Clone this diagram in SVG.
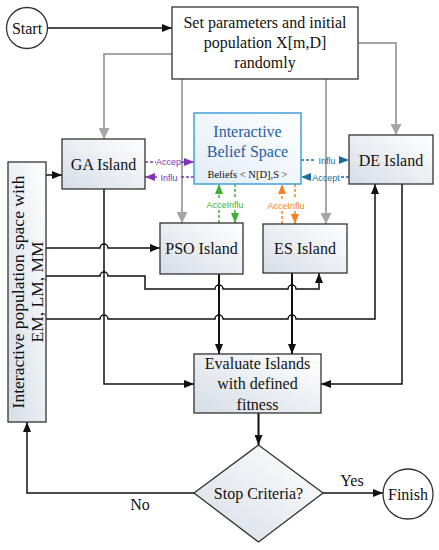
<svg xmlns="http://www.w3.org/2000/svg" width="439" height="550" viewBox="0 0 439 550">
<defs>
<linearGradient id="gfill" x1="1" y1="0" x2="0" y2="1">
<stop offset="0" stop-color="#ffffff"/>
<stop offset="1" stop-color="#d6dde6"/>
</linearGradient>
<linearGradient id="bfill" x1="1" y1="0" x2="0" y2="1">
<stop offset="0" stop-color="#ffffff"/>
<stop offset="1" stop-color="#e2ecf6"/>
</linearGradient>
<marker id="ab" viewBox="0 0 10 8" refX="10" refY="4" markerWidth="10" markerHeight="8" markerUnits="userSpaceOnUse" orient="auto"><path d="M0,0 L10,4 L0,8 z" fill="#111"/></marker>
<marker id="ag" viewBox="0 0 10 10" refX="10" refY="5" markerWidth="11" markerHeight="11" markerUnits="userSpaceOnUse" orient="auto"><path d="M0,0 L10,5 L0,10 z" fill="#a6a6a6"/></marker>
<marker id="ap" viewBox="0 0 10 8" refX="10" refY="4" markerWidth="10" markerHeight="8" markerUnits="userSpaceOnUse" orient="auto"><path d="M0,0 L10,4 L0,8 z" fill="#7f35b2"/></marker>
<marker id="abl" viewBox="0 0 10 8" refX="10" refY="4" markerWidth="10" markerHeight="8" markerUnits="userSpaceOnUse" orient="auto"><path d="M0,0 L10,4 L0,8 z" fill="#1a6e9e"/></marker>
<marker id="agr" viewBox="0 0 10 8" refX="10" refY="4" markerWidth="10" markerHeight="8" markerUnits="userSpaceOnUse" orient="auto"><path d="M0,0 L10,4 L0,8 z" fill="#3cb034"/></marker>
<marker id="aor" viewBox="0 0 10 8" refX="10" refY="4" markerWidth="10" markerHeight="8" markerUnits="userSpaceOnUse" orient="auto"><path d="M0,0 L10,4 L0,8 z" fill="#f58220"/></marker>
</defs>
<style>
.box{fill:url(#gfill);stroke:#333;stroke-width:1.3}
.plain{fill:#fff;stroke:#333;stroke-width:1.3}
.t{font-family:"Liberation Serif","Times New Roman",serif;font-size:16px;fill:#111;text-anchor:middle}
.ln{fill:none;stroke:#111;stroke-width:1.5}
.lnb{fill:none;stroke:#111;stroke-width:2}
.gr{fill:none;stroke:#a6a6a6;stroke-width:2}
.d{fill:none;stroke-width:1.5;stroke-dasharray:3 2}
.lab{font-family:"Liberation Sans",Arial,sans-serif;font-size:9px;text-anchor:middle}
</style>
<rect width="439" height="550" fill="#fff"/>

<g id="connectors">
<path class="ln" d="M48,28 H172" marker-end="url(#ab)"/>
<path class="gr" d="M172,54 H104 V139" marker-end="url(#ag)"/>
<path class="gr" d="M182,79 V223" marker-end="url(#ag)"/>
<path class="gr" d="M326,79 V224" marker-end="url(#ag)"/>
<path class="gr" d="M358,43 H396 V135" marker-end="url(#ag)"/>
<path class="ln" d="M46,175 H62" marker-end="url(#ab)"/>
<path class="ln" d="M46,248 H100 a4,4 0 0 1 8,0 H160" marker-end="url(#ab)"/>
<path class="ln" d="M46,276 H100 a4,4 0 0 1 8,0 H145 V289 H215 a4,4 0 0 1 8,0 H288 a4,4 0 0 1 8,0 H319 V273" marker-end="url(#ab)"/>
<path class="ln" d="M46,319 H100 a4,4 0 0 1 8,0 H215 a4,4 0 0 1 8,0 H288 a4,4 0 0 1 8,0 H375 V184" marker-end="url(#ab)"/>
<path class="ln" d="M104,189 V384 H194" marker-end="url(#ab)"/>
<path class="lnb" d="M219,274 V354" marker-end="url(#ab)"/>
<path class="lnb" d="M292,273 V354" marker-end="url(#ab)"/>
<path class="ln" d="M402,184 V384 H321" marker-end="url(#ab)"/>
<path class="lnb" d="M258.5,413 V445" marker-end="url(#ab)"/>
<path class="ln" d="M323,493 H383" marker-end="url(#ab)"/>
<path class="ln" d="M194,493 H27 V422" marker-end="url(#ab)"/>
<text class="t" x="352" y="486">Yes</text>
<text class="t" x="140" y="510">No</text>

<path class="d" stroke="#7f35b2" d="M145,162 H156"/>
<path class="d" stroke="#7f35b2" d="M181,162 H194" marker-end="url(#ap)"/>
<text class="lab" fill="#7f35b2" x="168.5" y="165">Accep</text>
<path class="d" stroke="#7f35b2" d="M194,177 H181"/>
<path class="d" stroke="#7f35b2" d="M157,177 H145" marker-end="url(#ap)"/>
<text class="lab" fill="#7f35b2" x="169" y="180.5">Influ</text>

<path class="d" stroke="#1a6e9e" d="M301,160 H314"/>
<path class="d" stroke="#1a6e9e" d="M339,160 H349" marker-end="url(#abl)"/>
<text class="lab" fill="#1a6e9e" x="327" y="163.5">Influ</text>
<path class="d" stroke="#1a6e9e" d="M349,177 H341"/>
<path class="d" stroke="#1a6e9e" d="M311,177 H301" marker-end="url(#abl)"/>
<text class="lab" fill="#1a6e9e" x="326" y="180.5">Accept</text>

<path class="d" stroke="#3cb034" d="M219,223 V210"/>
<path class="d" stroke="#3cb034" d="M219,198 V184" marker-end="url(#agr)"/>
<path class="d" stroke="#3cb034" d="M235,184 V198"/>
<path class="d" stroke="#3cb034" d="M235,210 V223" marker-end="url(#agr)"/>
<text class="lab" fill="#3cb034" x="225" y="207.5">AcceInflu</text>

<path class="d" stroke="#f58220" d="M282,224 V211"/>
<path class="d" stroke="#f58220" d="M282,199 V184" marker-end="url(#aor)"/>
<path class="d" stroke="#f58220" d="M295,184 V199"/>
<path class="d" stroke="#f58220" d="M295,211 V224" marker-end="url(#aor)"/>
<text class="lab" fill="#f58220" x="286" y="208.5">AcceInflu</text>
</g>

<g id="start">
<circle class="plain" cx="27" cy="28" r="20.5"/>
<text class="t" x="27" y="33.5">Start</text>
</g>

<g id="setparams">
<rect class="plain" x="172" y="7" width="186" height="72"/>
<text class="t" x="265" y="28">Set parameters and initial</text>
<text class="t" x="265" y="48">population X[m,D]</text>
<text class="t" x="265" y="68">randomly</text>
</g>

<g id="ga">
<rect class="box" x="62" y="139" width="83" height="50"/>
<text class="t" x="103.5" y="170">GA Island</text>
</g>

<g id="belief">
<rect x="194" y="113" width="107" height="71" fill="url(#bfill)" stroke="#41a0dc" stroke-width="1.5"/>
<text class="t" x="247.5" y="137" fill="#1f5ea8" style="fill:#1f5ea8">Interactive</text>
<text class="t" x="247.5" y="157" style="fill:#1f5ea8">Belief Space</text>
<text class="t" x="247.5" y="177.5" style="font-size:10.5px">Beliefs &lt; N[D],S &gt;</text>
</g>

<g id="de">
<rect class="box" x="349" y="135" width="84" height="49"/>
<text class="t" x="391" y="165.5">DE Island</text>
</g>

<g id="pso">
<rect class="box" x="160" y="223" width="83" height="51"/>
<text class="t" x="201.5" y="254">PSO Island</text>
</g>

<g id="es">
<rect class="box" x="263" y="224" width="84" height="49"/>
<text class="t" x="305" y="254">ES Island</text>
</g>

<g id="population">
<rect class="box" x="8" y="162" width="38" height="260"/>
<text class="t" transform="translate(24,292) rotate(-90)" style="font-size:17.5px">Interactive population space with</text>
<text class="t" transform="translate(42.5,292) rotate(-90)" style="font-size:17.5px">EM, LM, MM</text>
</g>

<g id="evaluate">
<rect class="box" x="194" y="354" width="127" height="59"/>
<text class="t" x="257.5" y="369">Evaluate Islands</text>
<text class="t" x="257.5" y="389">with defined</text>
<text class="t" x="257.5" y="409.5">fitness</text>
</g>

<g id="stop">
<polygon class="box" points="258.5,445 323,493 258.5,542 194,493"/>
<text class="t" x="258.5" y="498.5">Stop Criteria?</text>
</g>

<g id="finish">
<circle class="plain" cx="408" cy="494" r="25"/>
<text class="t" x="408" y="499.5">Finish</text>
</g>
</svg>
